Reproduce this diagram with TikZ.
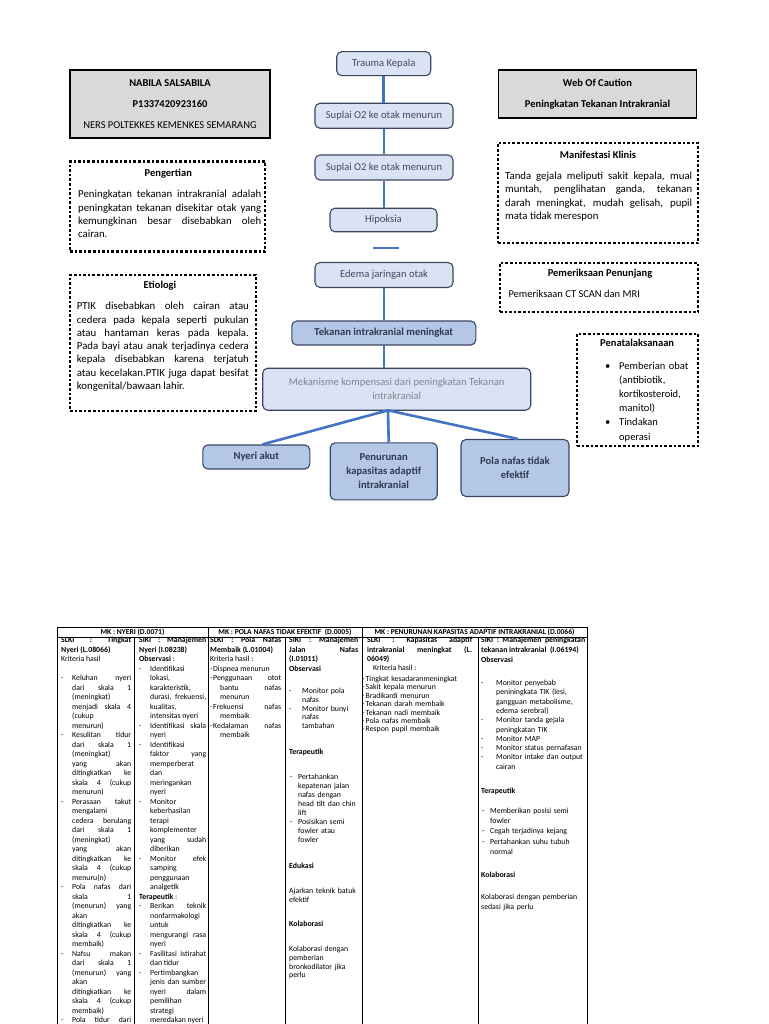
\documentclass[tikz,border=0pt]{standalone}
\usepackage{fontspec}
\setmainfont{Carlito}
\usetikzlibrary{positioning}

\definecolor{flowpale}{HTML}{DAE3F3}
\definecolor{flowdeep}{HTML}{B4C7E7}
\definecolor{flowedge}{HTML}{3A4660}
\definecolor{flowink}{HTML}{404A5C}
\definecolor{keyink}{HTML}{2E3A50}
\definecolor{mutedink}{HTML}{7F8591}
\definecolor{linkblue}{HTML}{4472C4}
\definecolor{idgray}{HTML}{D9D9D9}

\newcommand{\flowfont}{\fontsize{10.6}{14}\selectfont}
\newcommand{\boxfont}{\fontsize{10.8}{13.3}\selectfont}
\newcommand{\idfont}{\fontsize{10.5}{21}\selectfont}
\newcommand{\cellfont}{\fontsize{7.8}{9.5}\selectfont}
% one list paragraph: marker box, hanging indent, text
\newcommand{\markpar}[4]{\noindent\hangindent=#2pt\hangafter=1\makebox[#1pt][l]{#3}#4\par}
\newcommand{\dashpar}[3]{\markpar{#1}{#2}{-}{#3}}
% lines are broken by hand, so let TeX accept loose lines
\newcommand{\handbroken}{\tolerance=10000\pretolerance=-1\hyphenpenalty=10000\exhyphenpenalty=10000\hbadness=10000\emergencystretch=0pt}

\tikzset{
  flowbox/.style={draw=flowedge, fill=flowpale, line width=1.1pt, rounded corners=5pt,
    inner sep=0pt, text=flowink, font=\flowfont, align=center},
  flowkey/.style={flowbox, fill=flowdeep, text=keyink, font=\flowfont\bfseries},
  link/.style={draw=linkblue, line width=2.6pt},
  idbox/.style={draw=black, fill=idgray, line width=1.4pt, inner sep=0pt, align=center, font=\idfont},
  dotbox/.style={draw=black, line width=2.6pt, dash pattern=on 2.6pt off 2pt, inner sep=0pt},
  boxtitle/.style={anchor=base, inner sep=0pt, font=\fontsize{10.5}{13}\selectfont\bfseries},
  boxtext/.style={anchor=base west, inner sep=0pt, align=justify, font=\boxfont, text width=#1pt,
    execute at begin node=\handbroken},
  cell/.style={anchor=base west, inner sep=0pt, align=justify, font=\cellfont, text width=#1pt,
    execute at begin node=\handbroken},
  cellrag/.style={cell=#1, align=left},
  cellhead/.style={anchor=base west, inner sep=0pt, font=\cellfont\bfseries},
  mkhead/.style={anchor=base, inner sep=0pt, font=\fontsize{7.6}{9}\selectfont\bfseries},
  tablerule/.style={line width=0.8pt}
}

\begin{document}
\begin{tikzpicture}[x=1pt, y=-1pt]
	\useasboundingbox (0,0) rectangle (768,1024);
	\fill[white] (0,0) rectangle (768,1024);

	% Identity boxes
	\node[idbox, minimum width=200, minimum height=68] (author) at (170,104)
		{\textbf{NABILA SALSABILA}\\\textbf{P1337420923160}\\NERS POLTEKKES KEMENKES SEMARANG};
	\node[idbox, minimum width=198, minimum height=48] (woc) at (597.5,94)
		{\textbf{Web Of Caution}\\\textbf{Peningkatan Tekanan Intrakranial}};

	% Draw the flow
	\node[flowbox, minimum width=94, minimum height=24] (trauma) at (383.7,63.7) {Trauma Kepala};
	\node[flowbox, minimum width=138, minimum height=25] (suplai1) at (384,115.8) {Suplai O2 ke otak menurun};
	\node[flowbox, minimum width=138, minimum height=25] (suplai2) at (384,167.5) {Suplai O2 ke otak menurun};
	\node[flowbox, minimum width=107, minimum height=23.5] (hipoksia) at (383.5,220) {Hipoksia};
	\node[flowbox, minimum width=138, minimum height=25] (edema) at (384,275) {Edema jaringan otak};
	\node[flowkey, minimum width=184, minimum height=24] (tik) at (383.8,333) {Tekanan intrakranial meningkat};
	\node[flowbox, minimum width=268, minimum height=42, text=mutedink] (mekanisme) at (396.7,389.2)
		{Mekanisme kompensasi dari peningkatan Tekanan\\intrakranial};
	\node[flowkey, minimum width=107, minimum height=24] (nyeri) at (256.3,457) {Nyeri akut};
	\node[flowkey, minimum width=107, minimum height=57] (kapasitas) at (383.7,471.3)
		{Penurunan\\kapasitas adaptif\\intrakranial};
	\node[flowkey, minimum width=108, minimum height=57] (pola) at (515,468) {Pola nafas tidak\\efektif};

	% Connect the flow
	\draw[link] (trauma.south) -- (trauma.south |- suplai1.north);
	\draw[link] (suplai1.south) -- (suplai1.south |- suplai2.north);
	\draw[link] (suplai2.south) -- (suplai2.south |- hipoksia.north);
	\coordinate (gapL) at (373,248);
	\coordinate (gapR) at (399,248);
	\draw[link] (gapL) -- (gapR);
	\draw[link] (edema.south) -- (edema.south |- tik.north);
	\draw[link] (tik.south) -- (tik.south |- mekanisme.north);
	\coordinate (split) at (388,410.3);
	\draw[link] (split) -- ([xshift=6pt]nyeri.north)
		(split) -- ([xshift=5pt]kapasitas.north)
		(split) -- ([xshift=3pt]pola.north);

	% Side boxes
	\node[dotbox, minimum width=195, minimum height=90] (pengertian) at (167.5,206.7) {};
	\node[boxtitle] (pengertianT) at (168.3,176.2) {Pengertian};
	\node[boxtext=183] (pengertianB) at (78,198) {Peningkatan tekanan intrakranial adalah\linebreak
		peningkatan tekanan disekitar otak yang\linebreak kemungkinan besar disebabkan oleh\linebreak cairan.};

	\node[dotbox, minimum width=186, minimum height=136] (etiologi) at (163,343) {};
	\node[boxtitle] (etiologiT) at (160,288.5) {Etiologi};
	\node[boxtext=172] (etiologiB) at (76.7,309.7) {PTIK disebabkan oleh cairan atau\linebreak
		cedera pada kepala seperti pukulan\linebreak atau hantaman keras pada kepala.\linebreak
		Pada bayi atau anak terjadinya cedera\linebreak kepala disebabkan karena terjatuh\linebreak
		atau kecelakan.PTIK juga dapat besifat\linebreak kongenital/bawaan lahir.};

	\node[dotbox, minimum width=200, minimum height=100] (manifestasi) at (598,193) {};
	\node[boxtitle] (manifestasiT) at (598,158.5) {Manifestasi Klinis};
	\node[boxtext=187] (manifestasiB) at (505,179.7) {Tanda gejala meliputi sakit kepala, mual\linebreak
		muntah, penglihatan ganda, tekanan\linebreak darah meningkat, mudah gelisah, pupil\linebreak
		mata tidak merespon};

	\node[dotbox, minimum width=198, minimum height=49] (penunjang) at (599,287.5) {};
	\node[boxtitle] (penunjangT) at (600,276.2) {Pemeriksaan Penunjang};
	\node[anchor=base west, inner sep=0pt, font=\fontsize{10.5}{13}\selectfont] (penunjangB) at (508.3,297.3)
		{Pemeriksaan CT SCAN dan MRI};

	\node[dotbox, minimum width=121, minimum height=112] (penatalaksanaan) at (637.5,390) {};
	\node[boxtitle, anchor=base west] (penatalaksanaanT) at (600,346.5) {Penatalaksanaan};
	\node[boxtext=90, align=left, font=\fontsize{10.5}{14.2}\selectfont] (penatalaksanaanB) at (605,369)
		{\markpar{14}{14}{•}{Pemberian obat\linebreak (antibiotik,\linebreak kortikosteroid,\linebreak manitol)}%
		 \markpar{14}{14}{•}{Tindakan\linebreak operasi}};

	% Table grid
	\draw[tablerule] (57,627) -- (587,627) (57,637) -- (587,637);
	\foreach \x in {57,208,362,587}
		\draw[tablerule] (\x,627) -- (\x,1030);
	\foreach \x in {134,285,478}
		\draw[tablerule] (\x,637) -- (\x,1030);
	\node[mkhead] (mk1) at (132.5,634.8) {MK : NYERI (D.0071)};
	\node[mkhead] (mk2) at (285,634.8) {MK : POLA NAFAS TIDAK EFEKTIF~ (D.0005)};
	\node[mkhead] (mk3) at (474.5,634.8) {MK : PENURUNAN KAPASITAS ADAPTIF INTRAKRANIAL (D.0066)};

	% Nyeri
	\node[cell=70] (slki1) at (61,642.8) {\textbf{SLKI : Tingkat\linebreak Nyeri (L.08066)}\par Kriteria hasil\par\mbox{}\par
		\dashpar{11}{11}{Keluhan nyeri\linebreak dari skala 1\linebreak (meningkat)\linebreak menjadi skala 4\linebreak (cukup\linebreak menurun)}
		\dashpar{11}{11}{Kesulitan tidur\linebreak dari skala 1\linebreak (meningkat)\linebreak yang akan\linebreak ditingkatkan ke\linebreak skala 4 (cukup\linebreak menurun)}
		\dashpar{11}{11}{Perasaan takut\linebreak mengalami\linebreak cedera berulang\linebreak dari skala 1\linebreak (meningkat)\linebreak yang akan\linebreak ditingkatkan ke\linebreak skala 4 (cukup\linebreak menuru(n)}
		\dashpar{11}{11}{Pola nafas dari\linebreak skala 1\linebreak (menurun) yang\linebreak akan\linebreak ditingkatkan ke\linebreak skala 4 (cukup\linebreak membaik)}
		\dashpar{11}{11}{Nafsu makan\linebreak dari skala 1\linebreak (menurun) yang\linebreak akan\linebreak ditingkatkan ke\linebreak skala 4 (cukup\linebreak membaik)}
		\dashpar{11}{11}{Pola tidur dari\linebreak\mbox{}}};
	\node[cell=67] (siki1) at (139,642.8) {\textbf{SIKI : Manajemen\linebreak Nyeri (I.08238)}\par\textbf{Observasi} :\par
		\dashpar{11}{11}{Identifikasi\linebreak lokasi,\linebreak karakteristik,\linebreak durasi, frekuensi,\linebreak kualitas,\linebreak intensitas nyeri}
		\dashpar{11}{11}{Identifikasi skala\linebreak nyeri}
		\dashpar{11}{11}{Identifikasi\linebreak faktor yang\linebreak memperberat\linebreak dan\linebreak meringankan\linebreak nyeri}
		\dashpar{11}{11}{Monitor\linebreak keberhasilan\linebreak terapi\linebreak komplementer\linebreak yang sudah\linebreak diberikan}
		\dashpar{11}{11}{Monitor efek\linebreak samping\linebreak penggunaan\linebreak analgetik}
		\textbf{Terapeutik} :\par
		\dashpar{11}{11}{Berikan teknik\linebreak nonfarmakologi\linebreak untuk\linebreak mengurangi rasa\linebreak nyeri}
		\dashpar{11}{11}{Fasilitasi istirahat\linebreak dan tidur}
		\dashpar{11}{11}{Pertimbangkan\linebreak jenis dan sumber\linebreak nyeri dalam\linebreak pemilihan\linebreak strategi\linebreak meredakan nyeri}};

	% Pola nafas
	\node[cell=71] (slki2) at (210,642.8) {\textbf{SLKI : Pola Nafas\linebreak Membaik (L.01004)}\par Kriteria hasil :\par
		\dashpar{3}{10}{Dispnea menurun}
		\dashpar{3}{10}{Penggunaan otot\linebreak bantu nafas\linebreak menurun}
		\dashpar{3}{10}{Frekuensi nafas\linebreak membaik}
		\dashpar{3}{10}{Kedalaman nafas\linebreak membaik}};
	\node[cell=69] (siki2) at (289,642.8) {\textbf{SIKI : Manajemen\linebreak Jalan Nafas\linebreak (I.01011)}\par\textbf{Observasi}};
	\node[cellrag=69, font=\fontsize{7.8}{8.8}\selectfont] (siki2obs) at (289,693.5)
		{\dashpar{13}{13}{Monitor pola\linebreak nafas}\dashpar{13}{13}{Monitor bunyi\linebreak nafas\linebreak tambahan}};
	\node[cellhead] (siki2ter) at (289,754.5) {Terapeutik};
	\node[cellrag=68, font=\fontsize{7.8}{9}\selectfont] (siki2terB) at (290,779.5)
		{\dashpar{8}{8}{Pertahankan\linebreak kepatenan jalan\linebreak nafas dengan\linebreak head tilt dan chin\linebreak lift}%
		 \dashpar{8}{8}{Posisikan semi\linebreak fowler atau\linebreak fowler}};
	\node[cellhead] (siki2edu) at (289,868.5) {Edukasi};
	\node[cellrag=69, font=\fontsize{7.8}{8.8}\selectfont] (siki2eduB) at (289,893.5) {Ajarkan teknik batuk\linebreak efektif};
	\node[cellhead] (siki2kol) at (289,926.5) {Kolaborasi};
	\node[cellrag=69, font=\fontsize{7.8}{8.8}\selectfont] (siki2kolB) at (289,951.5)
		{Kolaborasi dengan\linebreak pemberian\linebreak bronkodilator jika\linebreak perlu};

	% Penurunan kapasitas adaptif
	\node[cell=105, font=\fontsize{7.8}{9.2}\selectfont] (slki3) at (367,642.8)
		{\textbf{SLKI : Kapasitas adaptif\linebreak intrakranial meningkat (L.\linebreak 06049)}};
	\node[anchor=base west, inner sep=0pt, font=\cellfont] (slki3krit) at (373,670) {Kriteria hasil :};
	\node[cellrag=114, font=\fontsize{7.8}{8.4}\selectfont] (slki3B) at (362,681.5)
		{\dashpar{3.5}{3.5}{Tingkat kesadaranmeningkat}\dashpar{3.5}{3.5}{Sakit kepala menurun}%
		 \dashpar{3.5}{3.5}{Bradikardi menurun}\dashpar{3.5}{3.5}{Tekanan darah membaik}%
		 \dashpar{3.5}{3.5}{Tekanan nadi membaik}\dashpar{3.5}{3.5}{Pola nafas membaik}%
		 \dashpar{3.5}{3.5}{Respon pupil membaik}};
	\node[cell=104, font=\fontsize{7.8}{10}\selectfont] (siki3) at (481,642.8)
		{\textbf{SIKI : Manajemen peningkatan\linebreak tekanan intrakranial~ (I.06194)}\par\textbf{Observasi}};
	\node[cellrag=104, font=\fontsize{7.8}{9.3}\selectfont] (siki3obs) at (481,685.5)
		{\dashpar{15}{15}{Monitor penyebab\linebreak peniningkata TIK (lesi,\linebreak gangguan metabolisme,\linebreak edema serebral)}%
		 \dashpar{15}{15}{Monitor tanda gejala\linebreak peningkatan TIK}%
		 \dashpar{15}{15}{Monitor MAP}%
		 \dashpar{15}{15}{Monitor status pernafasan}%
		 \dashpar{15}{15}{Monitor intake dan output\linebreak cairan}};
	\node[cellhead] (siki3ter) at (481,793.5) {Terapeutik};
	\node[cellrag=103, font=\fontsize{7.8}{10.2}\selectfont] (siki3terB) at (482,813.5)
		{\dashpar{8}{8}{Memberikan posisi semi\linebreak fowler}%
		 \dashpar{8}{8}{Cegah terjadinya kejang}%
		 \dashpar{8}{8}{Pertahankan suhu tubuh\linebreak normal}};
	\node[cellhead] (siki3kol) at (481,877.5) {Kolaborasi};
	\node[cellrag=104, font=\fontsize{7.8}{10}\selectfont] (siki3kolB) at (481,899.5)
		{Kolaborasi dengan pemberian\linebreak sedasi jika perlu};
\end{tikzpicture}
\end{document}
